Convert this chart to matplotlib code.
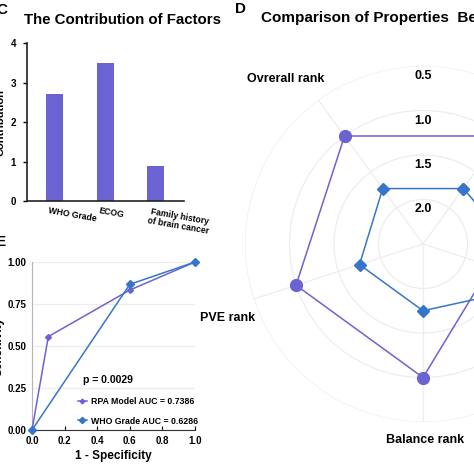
import numpy as np
import matplotlib
matplotlib.use('Agg')
import matplotlib.pyplot as plt
import matplotlib.transforms as mtransforms

plt.rcParams['font.family'] = ['Liberation Sans', 'DejaVu Sans']
plt.rcParams['font.weight'] = 'bold'
plt.rcParams['axes.titleweight'] = 'bold'
plt.rcParams['axes.labelweight'] = 'bold'

# bar chart data
factors = ['WHO Grade', 'ECOG', 'Family history\nof brain cancer']
contribution = [2.7, 3.5, 0.88]

# ROC data
rpa_fpr = [0.0, 0.1, 0.6, 1.0]
rpa_tpr = [0.0, 0.556, 0.833, 1.0]
who_fpr = [0.0, 0.6, 1.0]
who_tpr = [0.0, 0.867, 1.0]
roc_ticks_x = [0.0, 0.2, 0.4, 0.6, 0.8, 1.0]
roc_ticks_y = [0.0, 0.25, 0.5, 0.75, 1.0]

# radar data (angles clockwise from top, degrees)
radar_angles = [36, 108, 180, 252, 324]
radar_labels = ['', '', 'Balance rank', 'PVE rank', 'Ovrerall rank']
rpa_rank = [1.0, 1.7, 1.0, 1.0, 1.0]
who_rank = [1.73, 1.05, 1.75, 1.75, 1.73]
rank_ticks = [0.5, 1.0, 1.5, 2.0]

PURPLE = '#6C63D2'
BLUE = '#3576CC'
GRID = '#EDEDED'

W = 474.0
fig = plt.figure(figsize=(4.74, 4.74), dpi=100)
fig.patch.set_facecolor('white')


def px_rect(x0, y_top, x1, y_bot):
    return [x0 / W, 1 - y_bot / W, (x1 - x0) / W, (y_bot - y_top) / W]


# ---------- bar chart ----------
ax1 = fig.add_axes(px_rect(27, 43, 184, 201))
x = np.arange(len(factors))
ax1.bar(x, contribution, width=0.34, color=PURPLE)
ax1.set_xlim(-0.55, 2.56)
ax1.set_ylim(0, 4)
ax1.set_yticks([0, 1, 2, 3, 4])
ax1.set_xticks(x)
ax1.set_xticklabels([])
lab_tr = mtransforms.blended_transform_factory(ax1.transData, ax1.transAxes)
for xi, name in zip(x, factors):
    ax1.text(xi - 0.11, -0.035, name, transform=lab_tr, rotation=-10,
             rotation_mode='anchor', ha='left', va='top', fontsize=6.2,
             linespacing=1.15, multialignment='center')
ax1.tick_params(axis='x', length=0)
ax1.tick_params(axis='y', length=3, width=1, labelsize=7, pad=5)
for s in ['top', 'right']:
    ax1.spines[s].set_visible(False)
for s in ['left', 'bottom']:
    ax1.spines[s].set_color('#222222')
    ax1.spines[s].set_linewidth(1.2)
ax1.set_ylabel('Contribution', fontsize=8)
ax1.yaxis.set_label_coords(-0.14, 0.5)
ax1.set_title('The Contribution of Factors', fontsize=10.8, pad=14, x=0.61)

# ---------- ROC ----------
ax2 = fig.add_axes(px_rect(32, 262, 195, 430))
ax2.plot(rpa_fpr, rpa_tpr, color=PURPLE, lw=1.1, marker='D', ms=3,
         label='RPA Model AUC = 0.7386', clip_on=False, zorder=3)
ax2.plot(who_fpr, who_tpr, color=BLUE, lw=1.1, marker='D', ms=4,
         label='WHO Grade AUC = 0.6286', clip_on=False, zorder=3)
ax2.set_xlim(0, 1.0)
ax2.set_ylim(0, 1.0)
ax2.set_xticks(roc_ticks_x)
ax2.set_xticklabels([f'{t:.1f}' for t in roc_ticks_x])
ax2.set_yticks(roc_ticks_y)
ax2.set_yticklabels([f'{t:.2f}' for t in roc_ticks_y])
ax2.grid(axis='y', color=GRID, lw=0.9)
ax2.set_axisbelow(True)
for s in ['top', 'right']:
    ax2.spines[s].set_visible(False)
ax2.spines['left'].set_color('#B5B5B5')
ax2.spines['bottom'].set_color('#333333')
ax2.tick_params(axis='x', direction='in', length=3, labelsize=7, pad=4)
ax2.tick_params(axis='y', length=0, labelsize=7, pad=4)
ax2.set_xlabel('1 - Specificity', fontsize=8.5, labelpad=3)
ax2.set_ylabel('Sensitivity', fontsize=8.5)
ax2.yaxis.set_label_coords(-0.166, 0.5)
ax2.text(0.31, 0.3, 'p = 0.0029', transform=ax2.transAxes, fontsize=7.5,
         va='center')
ax2.legend(loc='upper left', bbox_to_anchor=(78 / W, 1 - 397 / W),
           bbox_transform=fig.transFigure, frameon=False, fontsize=6.3,
           handlelength=1.0, handletextpad=0.5, borderpad=0,
           borderaxespad=0, labelspacing=1.2, markerscale=0.8)

# ---------- radar ----------
R = 178
ax3 = fig.add_axes(px_rect(423 - R, 244 - R, 423 + R, 244 + R), projection='polar')
ax3.set_theta_zero_location('N')
ax3.set_theta_direction(-1)
theta = np.deg2rad(radar_angles)
theta_c = np.append(theta, theta[0])
ax3.set_ylim(2.5, 0.5)
ax3.plot(theta_c, np.append(rpa_rank, rpa_rank[0]), color=PURPLE, lw=1.1,
         marker='o', ms=8.5, zorder=3)
ax3.plot(theta_c, np.append(who_rank, who_rank[0]), color=BLUE, lw=1.1,
         marker='D', ms=6.5, zorder=3)
ax3.set_xticks(theta)
ax3.set_xticklabels([])
ax3.set_yticks(rank_ticks)
ax3.set_yticklabels([])
ax3.grid(color=GRID, lw=0.9)
ax3.spines['polar'].set_visible(False)
ax3.patch.set_alpha(0)
down = mtransforms.ScaledTranslation(0, -4 / 100, fig.dpi_scale_trans)
for t in rank_ticks:
    ax3.text(0, t, f'{t:.1f}', ha='center', va='top', fontsize=9,
             transform=ax3.transData + down)

fig.text(286 / W, 1 - 79 / W, radar_labels[4], ha='center', va='center', fontsize=9)
fig.text(200 / W, 1 - 318 / W, radar_labels[3], ha='left', va='center', fontsize=9)
fig.text(425 / W, 1 - 440 / W, radar_labels[2], ha='center', va='center', fontsize=9)
fig.text(261 / W, 1 - 18 / W, 'Comparison of Properties  Between', ha='left',
         va='center', fontsize=11)

# panel letters
fig.text(246 / W, 1 - 9 / W, 'D', ha='right', va='center', fontsize=11)
fig.text(7 / W, 1 - 10 / W, 'C', ha='right', va='center', fontsize=11)
fig.text(6 / W, 1 - 242 / W, 'E', ha='right', va='center', fontsize=11)

fig.savefig('out.png', dpi=100, facecolor='white')
